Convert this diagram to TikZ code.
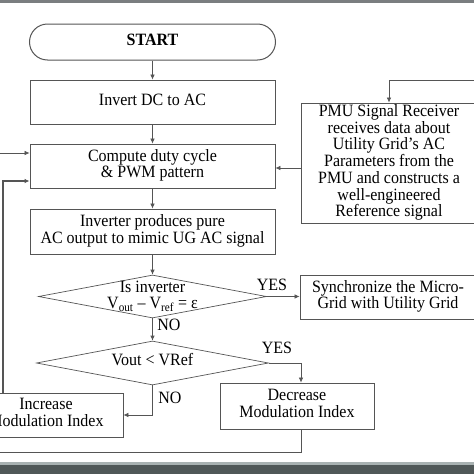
\documentclass[tikz,border=0pt]{standalone}
\usepackage{fontspec}
\setmainfont{Liberation Serif}
\usepackage{graphicx}
\usetikzlibrary{shapes.geometric,arrows.meta}
\definecolor{ln}{HTML}{555555}
\definecolor{band}{HTML}{7A7E80}
\definecolor{bandlight}{HTML}{A9B2B2}
\definecolor{banddark}{HTML}{505858}
\newcommand\txt[1]{\scalebox{1}[1.08]{\begin{tabular}{@{}c@{}}#1\end{tabular}}}
\begin{document}
\begin{tikzpicture}[x=1pt,y=-1pt,
  every node/.style={font=\fontsize{16}{14.6}\selectfont},
  box/.style={draw=ln, line width=0.8pt, rectangle, inner sep=0pt},
  arr/.style={draw=ln, line width=0.7pt, -{Latex[length=5pt,width=4.5pt]}},
  dia/.style={draw=ln, line width=0.7pt, diamond, inner sep=0pt},
  lbl/.style={inner sep=0pt}]
\useasboundingbox (0,0) rectangle (474,474);
\clip (0,0) rectangle (474,474);
\fill[white] (0,0) rectangle (474,474);
\fill[band] (0,0) rectangle (474,3);
\fill[bandlight] (0,462) rectangle (474,465);
\fill[banddark] (0,465) rectangle (474,474);
% nodes
\node[box, rounded corners=18pt, minimum width=246pt, minimum height=36pt, line width=1pt] (start) at (152.5,42) {\txt{\textbf{START}}};
\node[box, minimum width=245pt, minimum height=44pt] (invert) at (152.5,102) {\txt{Invert DC to AC}};
\node[box, minimum width=245pt, minimum height=44pt] (compute) at (152.5,166) {\txt{Compute duty cycle\\ \& PWM pattern}};
\node[box, minimum width=245pt, minimum height=45pt] (inverter) at (152.5,231.5) {\txt{Inverter produces pure\\AC output to mimic UG AC signal}};
\node[dia, minimum width=228pt, minimum height=43pt] (d1) at (152.5,296.5) {};
\node[lbl] (d1t) at (152.5,297) {\txt{Is inverter\\V\textsubscript{out} – V\textsubscript{ref} = ε}};
\node[box, minimum width=176pt, minimum height=44pt] (sync) at (388,297) {\txt{Synchronize the Micro-\\Grid with Utility Grid}};
\node[box, minimum width=176pt, minimum height=120pt] (pmu) at (389,163) {\txt{PMU Signal Receiver\\receives data about\\Utility Grid's AC\\Parameters from the\\PMU and constructs a\\well-engineered\\Reference signal}};
\node[dia, minimum width=232pt, minimum height=44pt] (d2) at (152.5,363) {};
\node[lbl] (d2t) at (152.5,362) {\txt{Vout < VRef}};
\node[box, minimum width=154pt, minimum height=46pt] (dec) at (297,406) {\txt{Decrease\\Modulation Index}};
\node[box, minimum width=154pt, minimum height=44pt] (inc) at (46,415) {\txt{Increase\\Modulation Index}};
% labels
\node[lbl] (yes1) at (272,287) {\txt{YES}};
\node[lbl] (no1) at (169,327) {\txt{NO}};
\node[lbl] (yes2) at (277,350) {\txt{YES}};
\node[lbl] (no2) at (170,400) {\txt{NO}};
% helper coordinates
\coordinate (pmuin) at (500,80);
\coordinate (loopL) at (-10,452);
\coordinate (xl) at (3,0);
\coordinate (pmuout) at ([yshift=-5pt]pmu.west);
% connectors
\draw[arr] (start) -- (invert);
\draw[arr] (invert) -- (compute);
\draw[arr] (compute) -- (inverter);
\draw[arr] (inverter) -- (d1);
\draw[arr] (d1.east) -- (sync.west |- d1.east);
\draw[arr] (d1) -- (d2);
\draw[arr] (d2.east) -| ([xshift=4pt]dec.north);
\draw[arr] (d2.south) |- (inc.east);
\draw[arr] (pmuout) -- (pmuout -| compute.east);
\draw[arr] (pmuin) -| (pmu.north);
\draw[arr, line width=1.1pt] (inc.north -| xl) |- ([yshift=-15pt]compute.west);
\draw[arr] ([xshift=4pt]dec.south) |- (loopL) |- ([yshift=13pt]compute.west);
\end{tikzpicture}
\end{document}
